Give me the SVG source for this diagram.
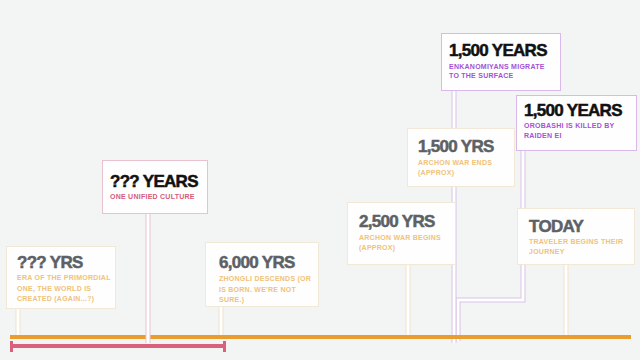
<svg xmlns="http://www.w3.org/2000/svg" width="640" height="360" viewBox="0 0 640 360">
<style>
.box{fill:#fefefe;stroke-width:1}
.bo{stroke:#f1e8d8}
.bp{stroke:#d9b8ea}
.bk{stroke:#e8c3cf}
.t{font-family:"Liberation Sans",Arial,sans-serif;font-weight:bold;font-size:17px;letter-spacing:-0.7px;stroke-width:0.5px}
.tg{fill:#5d6166;stroke:#5d6166}
.tb{fill:#111;stroke:#111}
.s{font-family:"Liberation Sans",Arial,sans-serif;font-weight:bold;font-size:7px;letter-spacing:0.25px}
.so{fill:#f0c27a}
.sp{fill:#a452d6}
.sk{fill:#d65b7b}
.stemo{fill:none;stroke:#efe3cc;stroke-width:5}
.stemp{fill:none;stroke:#d8c3e6;stroke-width:5}
.stemk{fill:none;stroke:#e6c5d2;stroke-width:5}
.stemw{fill:none;stroke:#ffffff;stroke-width:3}
</style>
<rect width="640" height="360" fill="#f3f5f5"/>
<g id="connectors">
<path class="stemo" d="M18 308V335"/><path class="stemw" d="M18 308V335"/>
<path class="stemo" d="M221 306V335"/><path class="stemw" d="M221 306V335"/>
<path class="stemo" d="M408 264V335"/><path class="stemw" d="M408 264V335"/>
<path class="stemo" d="M566 264V335"/><path class="stemw" d="M566 264V335"/>
<path class="stemp" d="M523 150V300H458V341"/><path class="stemw" d="M523 150V300H458V341"/>
<path class="stemp" d="M454 90V343"/><path class="stemw" d="M454 90V343"/>
</g>
<g id="timeline">
<rect x="10" y="335" width="621" height="4" fill="#e89d2e"/>
<rect x="10" y="344" width="216" height="4" fill="#d9617b"/>
<rect x="10" y="341" width="3" height="11" fill="#d9617b"/>
<rect x="223" y="341" width="3" height="11" fill="#d9617b"/>
</g>
<g id="stem-unified">
<path class="stemk" d="M148 213V343"/><path class="stemw" d="M148 213V343"/>
</g>
<g id="n-primordial">
<rect class="box bo" x="6.5" y="246.5" width="109" height="62"/>
<text class="t tg" x="17" y="268">??? YRS</text>
<text class="s so" x="17" y="280">ERA OF THE PRIMORDIAL</text>
<text class="s so" x="17" y="291">ONE, THE WORLD IS</text>
<text class="s so" x="17" y="301">CREATED (AGAIN...?)</text>
</g>
<g id="n-unified">
<rect class="box bk" x="102.5" y="160.5" width="105" height="53"/>
<text class="t tb" x="110" y="187">??? YEARS</text>
<text class="s sk" x="110" y="199">ONE UNIFIED CULTURE</text>
</g>
<g id="n-zhongli">
<rect class="box bo" x="205.5" y="242.5" width="113" height="64"/>
<text class="t tg" x="219" y="268">6,000 YRS</text>
<text class="s so" x="219" y="281">ZHONGLI DESCENDS (OR</text>
<text class="s so" x="219" y="292">IS BORN. WE'RE NOT</text>
<text class="s so" x="219" y="302">SURE.)</text>
</g>
<g id="n-warbegins">
<rect class="box bo" x="347.5" y="202.5" width="108" height="62"/>
<text class="t tg" x="359" y="227">2,500 YRS</text>
<text class="s so" x="359" y="240">ARCHON WAR BEGINS</text>
<text class="s so" x="359" y="250">(APPROX)</text>
</g>
<g id="n-warends">
<rect class="box bo" x="407.5" y="128.5" width="107" height="58"/>
<text class="t tg" x="418" y="152">1,500 YRS</text>
<text class="s so" x="418" y="165">ARCHON WAR ENDS</text>
<text class="s so" x="418" y="175">(APPROX)</text>
</g>
<g id="n-enkanomiya">
<rect class="box bp" x="441.5" y="33.5" width="119" height="57"/>
<text class="t tb" x="449" y="56">1,500 YEARS</text>
<text class="s sp" x="449" y="69">ENKANOMIYANS MIGRATE</text>
<text class="s sp" x="449" y="78">TO THE SURFACE</text>
</g>
<g id="n-orobashi">
<rect class="box bp" x="516.5" y="95.5" width="120" height="55"/>
<text class="t tb" x="524" y="116">1,500 YEARS</text>
<text class="s sp" x="524" y="128">OROBASHI IS KILLED BY</text>
<text class="s sp" x="524" y="138">RAIDEN EI</text>
</g>
<g id="n-today">
<rect class="box bo" x="517.5" y="208.5" width="117" height="56"/>
<text class="t tg" x="529" y="232">TODAY</text>
<text class="s so" x="529" y="244">TRAVELER BEGINS THEIR</text>
<text class="s so" x="529" y="254">JOURNEY</text>
</g>
</svg>
